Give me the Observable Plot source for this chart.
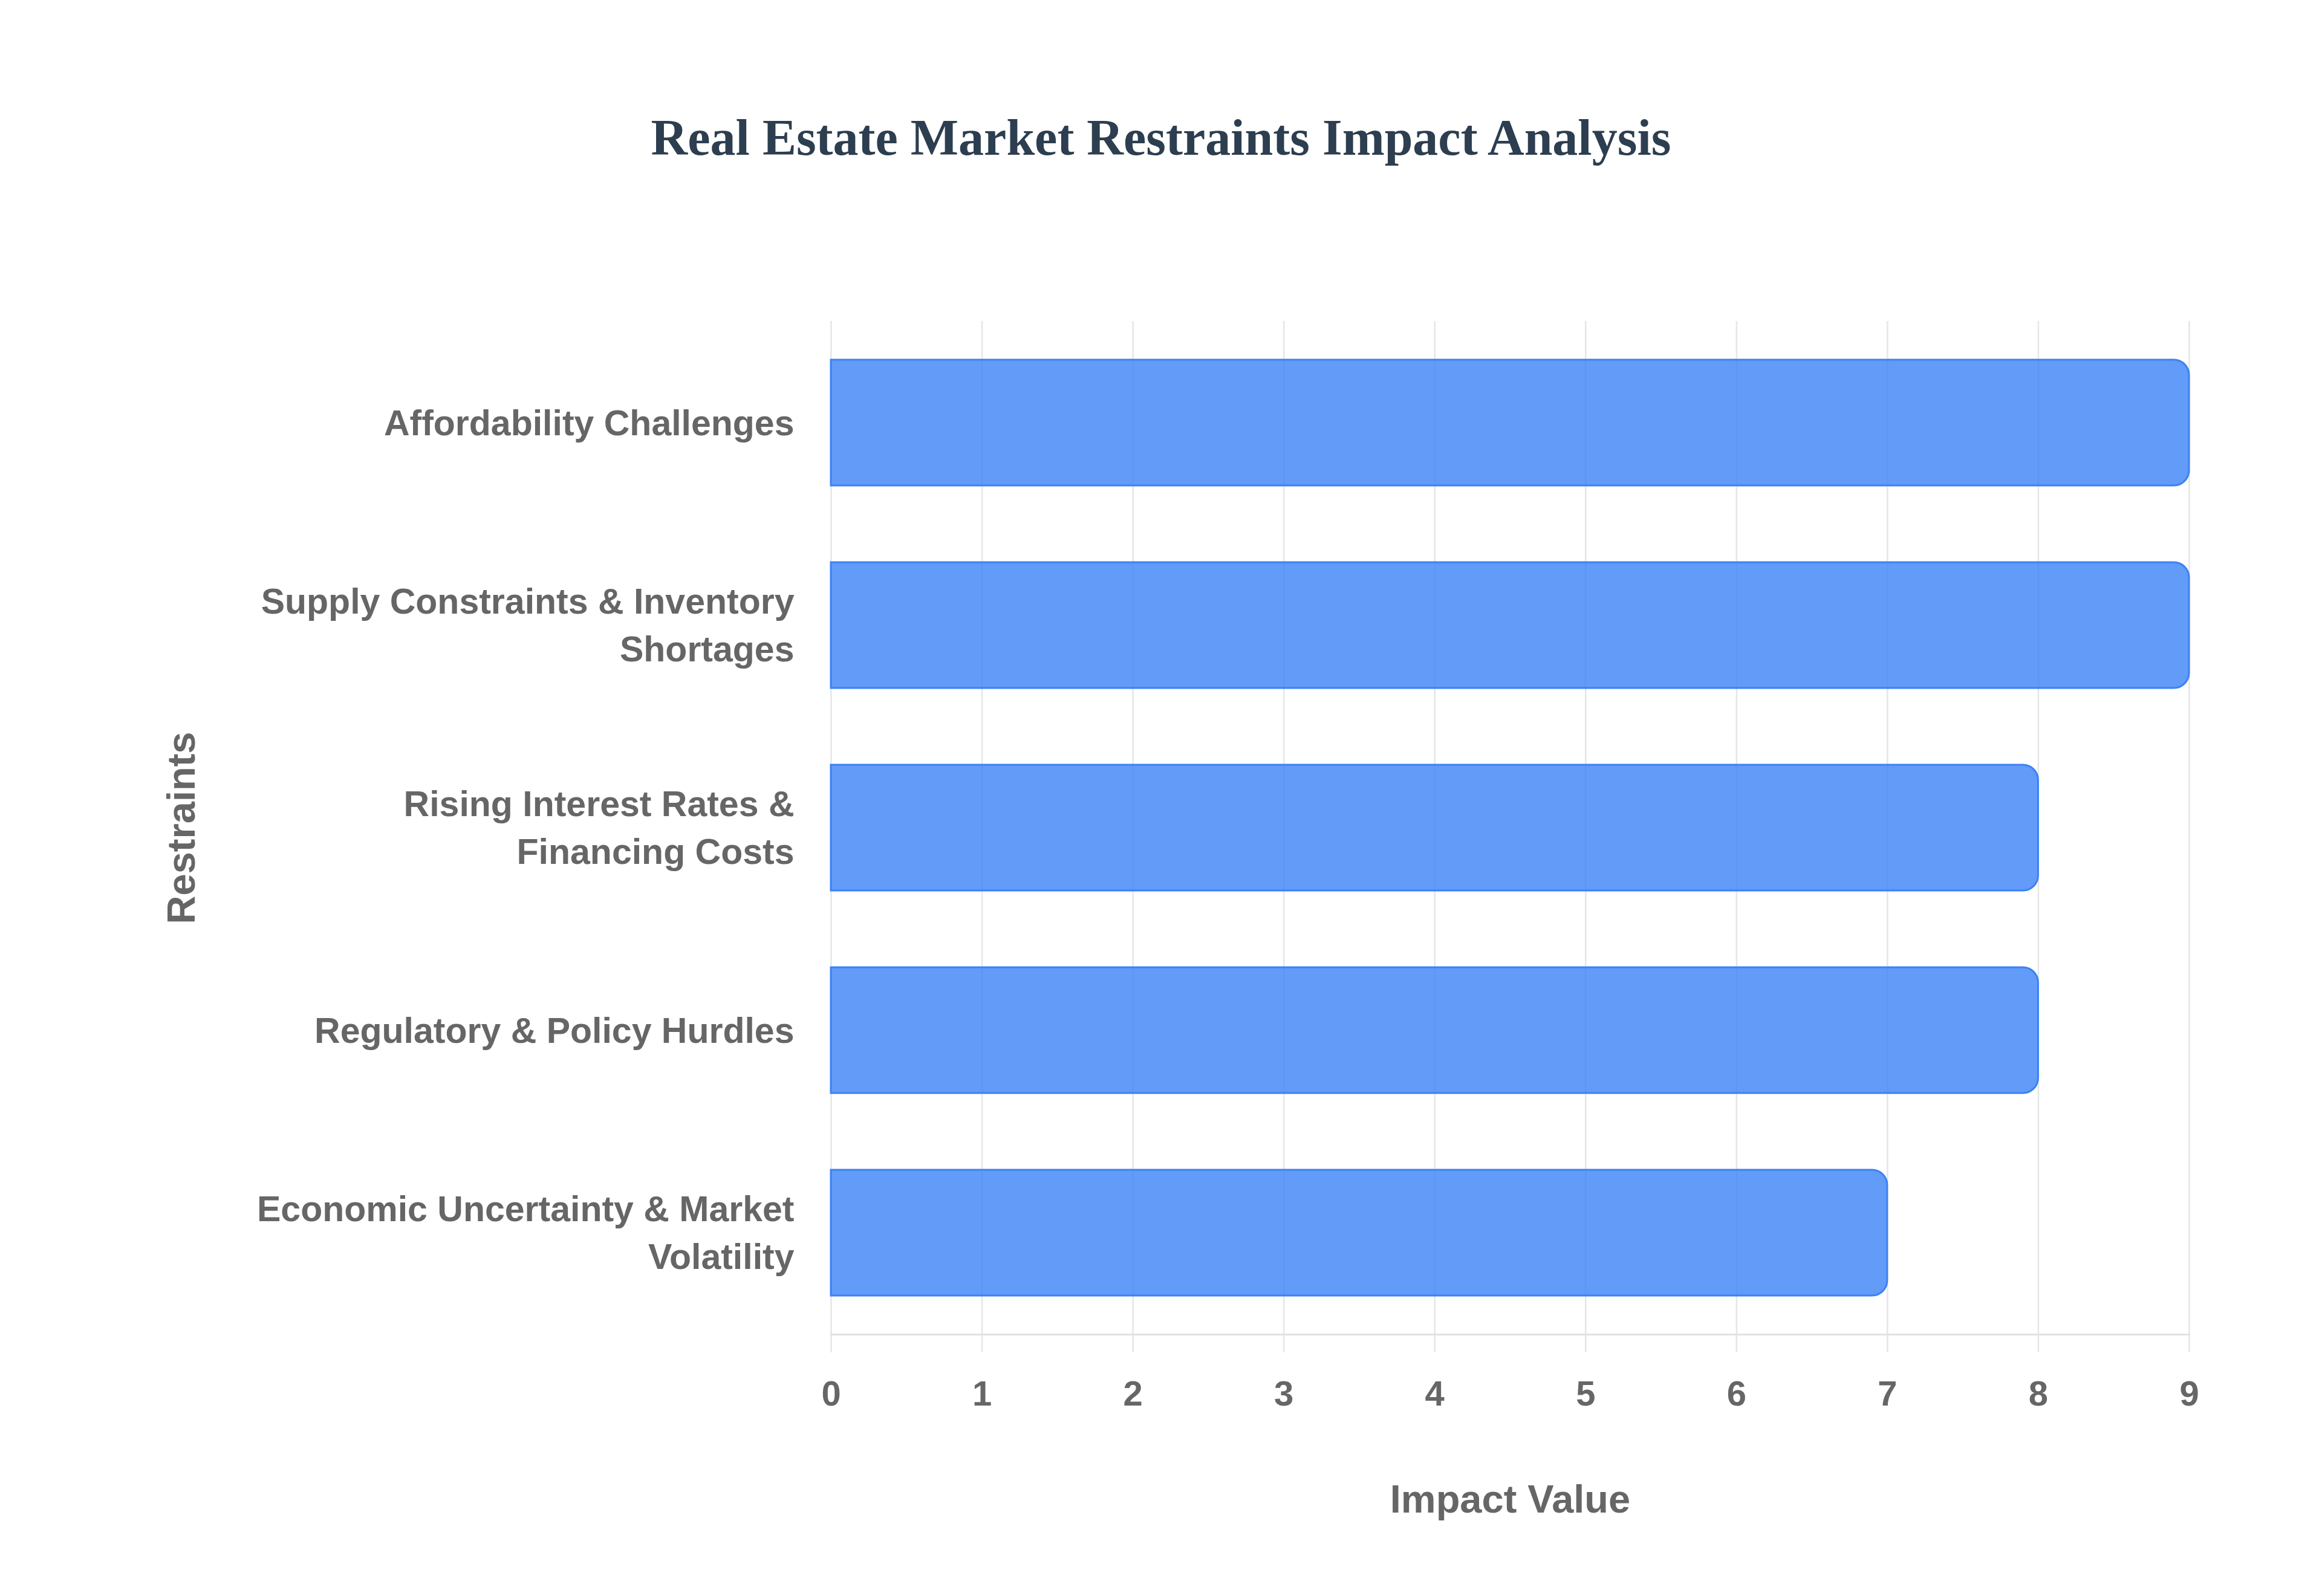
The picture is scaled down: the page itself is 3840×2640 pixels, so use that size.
<!DOCTYPE html>
<html>
<head>
<meta charset="utf-8">
<script src="https://cdn.jsdelivr.net/npm/d3@7"></script>
<script src="https://cdn.jsdelivr.net/npm/@observablehq/plot@0.6"></script>
<style>
  html, body { margin: 0; padding: 0; background: #ffffff; }
  #title {
    width: 3840px; height: 400px; box-sizing: border-box;
    padding-top: 178px; text-align: center;
    font-family: "Liberation Serif", "Times New Roman", serif;
    font-weight: bold; font-size: 84px; line-height: 100px; color: #2c3e50;
  }
</style>
</head>
<body>
<div id="title">Real Estate Market Restraints Impact Analysis</div>
<div id="chart"></div>
<script>
const categories = [
  "Affordability Challenges",
  "Supply Constraints & Inventory Shortages",
  "Rising Interest Rates & Financing Costs",
  "Regulatory & Policy Hurdles",
  "Economic Uncertainty & Market Volatility"
];
const tickLabels = [
  "Affordability Challenges",
  "Supply Constraints & Inventory\nShortages",
  "Rising Interest Rates &\nFinancing Costs",
  "Regulatory & Policy Hurdles",
  "Economic Uncertainty & Market\nVolatility"
];
const values = [9, 9, 8, 8, 7];
const xTicks = [0, 1, 2, 3, 4, 5, 6, 7, 8, 9];

const data = categories.map((name, i) => ({name, value: values[i]}));
const labelOf = new Map(categories.map((c, i) => [c, tickLabels[i]]));

const textColor = "#666666";
const chart = Plot.plot({
  width: 3840,
  height: 2240,
  marginLeft: 1374,
  marginRight: 220,
  marginTop: 131,
  marginBottom: 433,
  style: {fontFamily: "'Liberation Sans', Arial, sans-serif", background: "#ffffff", overflow: "visible"},
  x: {domain: [0, 9]},
  y: {domain: categories, paddingInner: 0.38, paddingOuter: 0.19},
  marks: [
    Plot.ruleX(xTicks, {stroke: "#e6e6e6", strokeWidth: 2.5, insetBottom: -30}),
    Plot.frame({anchor: "bottom", stroke: "#e2e2e2", strokeWidth: 3}),
    Plot.barX(data, {
      x: "value", y: "name",
      fill: "#3b82f6", fillOpacity: 0.8,
      stroke: "#3b82f6", strokeWidth: 3,
      rx2: 25
    }),
    Plot.axisX({
      ticks: xTicks, tickSize: 0, tickPadding: 76, label: null,
      fontSize: 58, fontWeight: "bold", fill: textColor
    }),
    Plot.axisY({
      tickSize: 0, tickPadding: 61, label: null, dy: -5,
      tickFormat: d => labelOf.get(d),
      fontSize: 59, fontWeight: "bold", fill: textColor, lineHeight: 1.33
    }),
    Plot.text(["Impact Value"], {
      frameAnchor: "bottom", dy: 274, lineAnchor: "middle",
      fontSize: 65, fontWeight: "bold", fill: textColor
    }),
    Plot.text(["Restraints"], {
      frameAnchor: "left", dx: -1073, rotate: -90, lineAnchor: "middle", textAnchor: "middle",
      fontSize: 65, fontWeight: "bold", fill: textColor
    })
  ]
});
document.getElementById("chart").appendChild(chart);
</script>
</body>
</html>
